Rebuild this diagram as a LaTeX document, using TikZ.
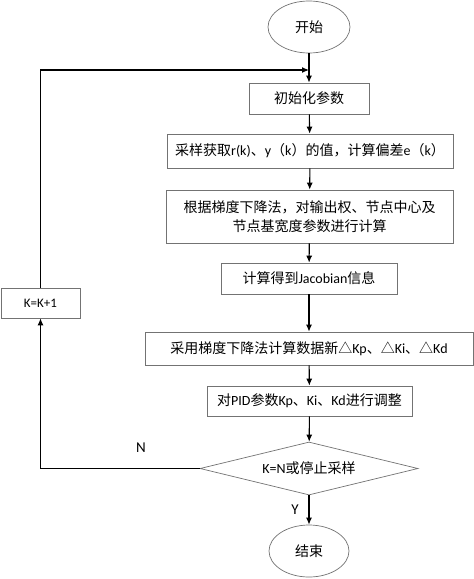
\documentclass[tikz,border=0pt]{standalone}
\usepackage{fontspec}
\setmainfont{Noto Sans CJK SC}
\newfontfamily\lat{Carlito}
\usetikzlibrary{shapes.geometric,arrows.meta}
\begin{document}
\begin{tikzpicture}[x=1pt, y=-1pt, font=\fontsize{14pt}{19pt}\selectfont,
    proc/.style={rectangle, draw=black!55, line width=0.7pt, fill=white, inner sep=0pt, align=center},
    term/.style={ellipse, draw=black!55, line width=0.7pt, fill=white, inner sep=0pt},
    cond/.style={diamond, draw=black!55, line width=0.7pt, fill=white, inner sep=0pt, aspect=4.1},
    flow/.style={line width=1.1pt, -{Latex[length=7pt,width=6pt]}}]
        \useasboundingbox (0,0) rectangle (474,579);
        % main column
        \node[term, minimum width=82pt, minimum height=52pt] (start) at (309,27) {开始};
        \node[proc, minimum width=120pt, minimum height=31pt] (init) at (309,98.5) {初始化参数};
        \node[proc, minimum width=286pt, minimum height=34pt] (sample) at (310,151) {采样获取{\lat r(k)}、{\lat y}（{\lat k}）的值，计算偏差{\lat e}（{\lat k}）};
        \node[proc, minimum width=287pt, minimum height=53pt] (grad) at (309.5,216.5) {根据梯度下降法，对输出权、节点中心及\\节点基宽度参数进行计算};
        \node[proc, minimum width=176pt, minimum height=31pt] (jac) at (309,278.5) {计算得到{\lat Jacobian}信息};
        \node[proc, minimum width=328pt, minimum height=33pt] (delta) at (309,348.5) {采用梯度下降法计算数据新△{\lat Kp}、△{\lat Ki}、△{\lat Kd}};
        \node[proc, minimum width=205pt, minimum height=30pt] (pid) at (309.5,401) {对{\lat PID}参数{\lat Kp}、{\lat Ki}、{\lat Kd}进行调整};
        \node[cond, minimum width=218pt, minimum height=53pt] (dec) at (309,468.5) {{\lat K=N}或停止采样};
        \node[term, minimum width=80pt, minimum height=52pt] (stop) at (309,551) {结束};
        % loop back
        \node[proc, minimum width=79pt, minimum height=30pt, font=\lat\fontsize{13pt}{15pt}\selectfont] (inc) at (40.5,303) {K=K+1};
        \coordinate (join) at (309,70);
        \coordinate (low) at (40.5,468.5);
        \coordinate (high) at (40.5,70);
        \draw[flow] (start) -- (init);
        \draw[flow] (init) -- (sample);
        \draw[flow] (sample) -- (grad);
        \draw[flow] (grad) -- (jac);
        \draw[flow] (jac) -- (delta);
        \draw[flow] (delta) -- (pid);
        \draw[flow] (pid) -- (dec);
        \draw[flow] (dec) -- (stop);
        \draw[flow] (dec.west) -- (low) -- (inc.south);
        \draw[flow] (inc.north) -- (high) -- (join);
        % branch labels
        \node[font=\lat\fontsize{15pt}{15pt}\selectfont] (nlab) at (141,448) {N};
        \node[font=\lat\fontsize{15pt}{15pt}\selectfont] (ylab) at (295,510) {Y};
\end{tikzpicture}
\end{document}
